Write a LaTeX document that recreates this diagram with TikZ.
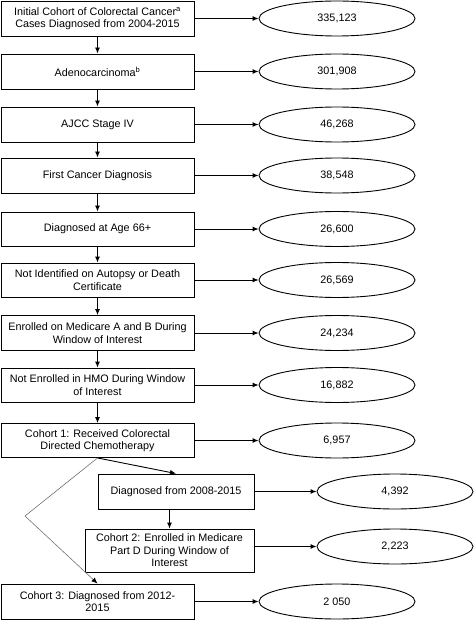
\documentclass[tikz,border=0pt]{standalone}
\usepackage{fontspec}
\setmainfont{Liberation Sans}
\usetikzlibrary{shapes.geometric,arrows.meta}
\begin{document}
\begin{tikzpicture}[x=1pt,y=-1pt,
  every node/.style={font=\fontsize{10.8pt}{12.4pt}\selectfont},
  stepbox/.style={draw, line width=0.9pt, minimum width=193pt, minimum height=35pt, align=center, inner sep=0pt},
  count/.style={draw, ellipse, line width=0.9pt, minimum width=156pt, minimum height=35pt, inner sep=0pt},
  conn/.style={line width=0.9pt, -{Latex[length=6pt,width=5pt]}},
  thinconn/.style={line width=0.6pt, draw=black!55, -{Latex[length=6pt,width=5pt,black]}}]
\useasboundingbox (0,0) rectangle (474,620);
% left column
\node[stepbox] (b1) at (97.5,18.5) {Initial Cohort of Colorectal Cancer\textsuperscript{a}\\Cases Diagnosed from 2004-2015};
\node[stepbox] (b2) at (97.5,71.5) {Adenocarcinoma\textsuperscript{b}};
\node[stepbox] (b3) at (97.5,124.5) {AJCC Stage IV};
\node[stepbox] (b4) at (97.5,175.5) {First Cancer Diagnosis};
\node[stepbox, minimum height=34pt] (b5) at (97.5,229) {Diagnosed at Age 66+};
\node[stepbox, minimum height=34pt] (b6) at (97.5,280) {Not Identified on Autopsy or Death\\Certificate};
\node[stepbox] (b7) at (97.5,333) {Enrolled on Medicare A and B During\\Window of Interest};
\node[stepbox, minimum height=34pt] (b8) at (97.5,385) {Not Enrolled in HMO During Window\\of Interest};
\node[stepbox, minimum height=34pt] (b9) at (97.5,440.5) {Cohort 1: Received Colorectal\\Directed Chemotherapy};
\node[stepbox, minimum width=156pt] (b10) at (176,491.5) {Diagnosed from 2008-2015};
\node[stepbox, minimum width=169pt, minimum height=43pt] (b11) at (169.5,550.5) {Cohort 2: Enrolled in Medicare\\Part D During Window of\\Interest};
\node[stepbox] (b12) at (97.5,601.5) {Cohort 3: Diagnosed from 2012-\\2015};
% counts
\node[count] (e1) at (337,18.5) {335,123};
\node[count] (e2) at (337,71.5) {301,908};
\node[count] (e3) at (337,124.5) {46,268};
\node[count] (e4) at (337,175.5) {38,548};
\node[count] (e5) at (337,229) {26,600};
\node[count] (e6) at (337,280) {26,569};
\node[count] (e7) at (337,333) {24,234};
\node[count] (e8) at (337,385) {16,882};
\node[count] (e9) at (337,440.5) {6,957};
\node[count] (e10) at (395,491.5) {4,392};
\node[count] (e11) at (395,546.5) {2,223};
\node[count] (e12) at (337,601.5) {2 050};
% vertical flow
\foreach \a/\b in {b1/b2,b2/b3,b3/b4,b4/b5,b5/b6,b6/b7,b7/b8,b8/b9}
  \draw[conn] (\a) -- (\b);
\draw[conn] (b9.south) -- (b10.north);
\draw[conn] (b10.south -| b11.north) -- (b11.north);
\coordinate (kink) at (25,516);
\draw[thinconn] (b9.south) -- (kink) -- (b12.north);
% horizontal arrows
\foreach \i in {1,...,10,12}
  \draw[conn] (b\i.east |- e\i.west) -- (e\i.west);
\draw[conn] (e11.west -| b11.east) -- (e11.west);
\end{tikzpicture}
\end{document}
